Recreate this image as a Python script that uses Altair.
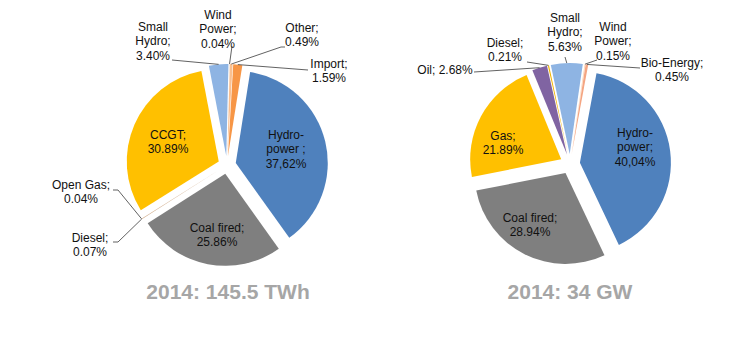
import math
import altair as alt
import pandas as pd

# ---------------- data ----------------
gen_sources = ["Hydro-power", "Coal fired", "Diesel", "Open Gas", "CCGT",
               "Small Hydro", "Wind Power", "Other", "Import"]
gen_shares = [37.62, 25.86, 0.07, 0.04, 30.89, 3.40, 0.04, 0.49, 1.59]
gen_labels = ["Hydro-\npower ;\n37,62%", "Coal fired;\n25.86%", "Diesel;\n0.07%",
              "Open Gas;\n0.04%", "CCGT;\n30.89%", "Small\nHydro;\n3.40%",
              "Wind\nPower;\n0.04%", "Other;\n0.49%", "Import;\n1.59%"]
gen_title = "2014: 145.5 TWh"

cap_sources = ["Hydro-power", "Coal fired", "Gas", "Oil", "Diesel",
               "Small Hydro", "Wind Power", "Bio-Energy"]
cap_shares = [40.04, 28.94, 21.89, 2.68, 0.21, 5.63, 0.15, 0.45]
cap_labels = ["Hydro-\npower;\n40,04%", "Coal fired;\n28.94%", "Gas;\n21.89%",
              "Oil; 2.68%", "Diesel;\n0.21%", "Small\nHydro;\n5.63%",
              "Wind\nPower;\n0.15%", "Bio-Energy;\n0.45%"]
cap_title = "2014: 34 GW"

# ---------------- styles ----------------
gen_colors = ["#4F81BD", "#7F7F7F", "#C9A27E", "#D9B38C", "#FFC000",
              "#8EB4E3", "#DCE6F2", "#FAC090", "#F79646"]
cap_colors = ["#4F81BD", "#7F7F7F", "#FFC000", "#8064A2", "#F2B400",
              "#8EB4E3", "#FCD5B5", "#F4A582"]

M = 8  # page margin
LH = 14.5  # label line height
# pie layout (page coordinates): centre, radius, explosion, rotation of first slice
pies = [
    dict(pie="gen", cx=227, cy=165, R=92, e=9, rot=9.0,
         sources=gen_sources, shares=gen_shares, labels=gen_labels,
         colors=gen_colors, title=gen_title, title_x=228, title_y=293),
    dict(pie="cap", cx=570, cy=164, R=91, e=10, rot=10.5,
         sources=cap_sources, shares=cap_shares, labels=cap_labels,
         colors=cap_colors, title=cap_title, title_x=570, title_y=293),
]

# label layout (page coordinates): text block centre; leader start / elbow for outside labels
label_pos = {
    ("gen", "Hydro-power"): dict(tx=286, ty=149),
    ("gen", "CCGT"): dict(tx=168, ty=142),
    ("gen", "Coal fired"): dict(tx=217, ty=235),
    ("gen", "Small Hydro"): dict(tx=153, ty=41, px=172, py=60),
    ("gen", "Wind Power"): dict(tx=218, ty=29, px=232, py=46),
    ("gen", "Other"): dict(tx=302, ty=35, px=285, py=47, bx=281, by=47),
    ("gen", "Import"): dict(tx=329, ty=71, px=308, py=70),
    ("gen", "Open Gas"): dict(tx=81, ty=192, px=113, py=190, bx=118, by=190),
    ("gen", "Diesel"): dict(tx=90, ty=245, px=113, py=242, bx=118, by=242),
    ("cap", "Hydro-power"): dict(tx=635, ty=147),
    ("cap", "Gas"): dict(tx=503, ty=143),
    ("cap", "Coal fired"): dict(tx=530, ty=225),
    ("cap", "Oil"): dict(tx=445, ty=70, px=474, py=72),
    ("cap", "Diesel"): dict(tx=505, ty=50, px=527, py=62),
    ("cap", "Small Hydro"): dict(tx=565, ty=32, px=565, py=57),
    ("cap", "Wind Power"): dict(tx=613, ty=41, px=597, py=60),
    ("cap", "Bio-Energy"): dict(tx=672, ty=70, px=640, py=68),
}

rows = []
titles = []
for p in pies:
    for i, (s, v, lab, col) in enumerate(zip(p["sources"], p["shares"], p["labels"], p["colors"])):
        o = label_pos[(p["pie"], s)]
        nlines = lab.count("\n") + 1
        row = dict(pie=p["pie"], source=s, share=v, label=lab, color=col, order=i,
                   cx=p["cx"] - M, cy=p["cy"] - M, R=p["R"], e=p["e"],
                   rot=math.radians(p["rot"]),
                   placement="out" if "px" in o else "in",
                   tx=o["tx"] - M, ty=o["ty"] - M - (nlines - 1) * LH / 2)
        if "px" in o:
            row.update(px=o["px"] - M, py=o["py"] - M,
                       bx=o.get("bx", o["px"]) - M, by=o.get("by", o["py"]) - M)
        rows.append(row)
    titles.append(dict(title=p["title"], x=p["title_x"] - M, y=p["title_y"] - M))

df = pd.DataFrame(rows)
tdf = pd.DataFrame(titles)

FONT = "Liberation Sans"

base = (
    alt.Chart(df)
    .transform_window(cum="sum(share)", groupby=["pie"],
                      sort=[alt.SortField("order")], frame=[None, 0])
    .transform_calculate(
        t0="datum.rot + 2*PI*(datum.cum - datum.share)/100",
        t1="datum.rot + 2*PI*datum.cum/100",
    )
    .transform_calculate(tm="(datum.t0 + datum.t1)/2")
    .transform_calculate(
        ex="datum.cx + datum.e*sin(datum.tm)",
        ey="datum.cy - datum.e*cos(datum.tm)",
        ax="datum.cx + (datum.e + datum.R)*sin(datum.tm)",
        ay="datum.cy - (datum.e + datum.R)*cos(datum.tm)",
    )
)

X = lambda f: alt.X(f, type="quantitative", scale=None, axis=None)
Y = lambda f: alt.Y(f, type="quantitative", scale=None, axis=None)

arcs = base.mark_arc().encode(
    x=X("ex"), y=Y("ey"),
    theta=alt.Theta("t0:Q", scale=None, stack=False),
    theta2="t1:Q",
    radius=alt.Radius("R:Q", scale=None),
    color=alt.Color("color:N", scale=None, legend=None),
)

labels = base.mark_text(
    font=FONT, fontSize=12, lineBreak="\n", lineHeight=LH,
    align="center", baseline="middle", color="#111111",
).encode(x=X("tx"), y=Y("ty"), text="label:N")

outs = base.transform_filter("datum.placement == 'out'")

lead1 = outs.mark_rule(color="#3a3a3a", strokeWidth=0.8).encode(
    x=X("px"), y=Y("py"), x2="bx:Q", y2="by:Q")
lead2 = outs.mark_rule(color="#3a3a3a", strokeWidth=0.8).encode(
    x=X("bx"), y=Y("by"), x2="ax:Q", y2="ay:Q")

title_layer = alt.Chart(tdf).mark_text(
    font=FONT, fontSize=21, fontWeight="bold", color="#A6A6A6",
    align="center", baseline="middle",
).encode(x=X("x"), y=Y("y"), text="title:N")

chart = alt.layer(arcs, lead1, lead2, labels, title_layer).properties(
    width=734, height=343, padding=0,
    autosize=alt.AutoSizeParams(type="none"),
).configure_view(stroke=None)

chart.save("out.html", embed_options={"renderer": "svg", "actions": False})
